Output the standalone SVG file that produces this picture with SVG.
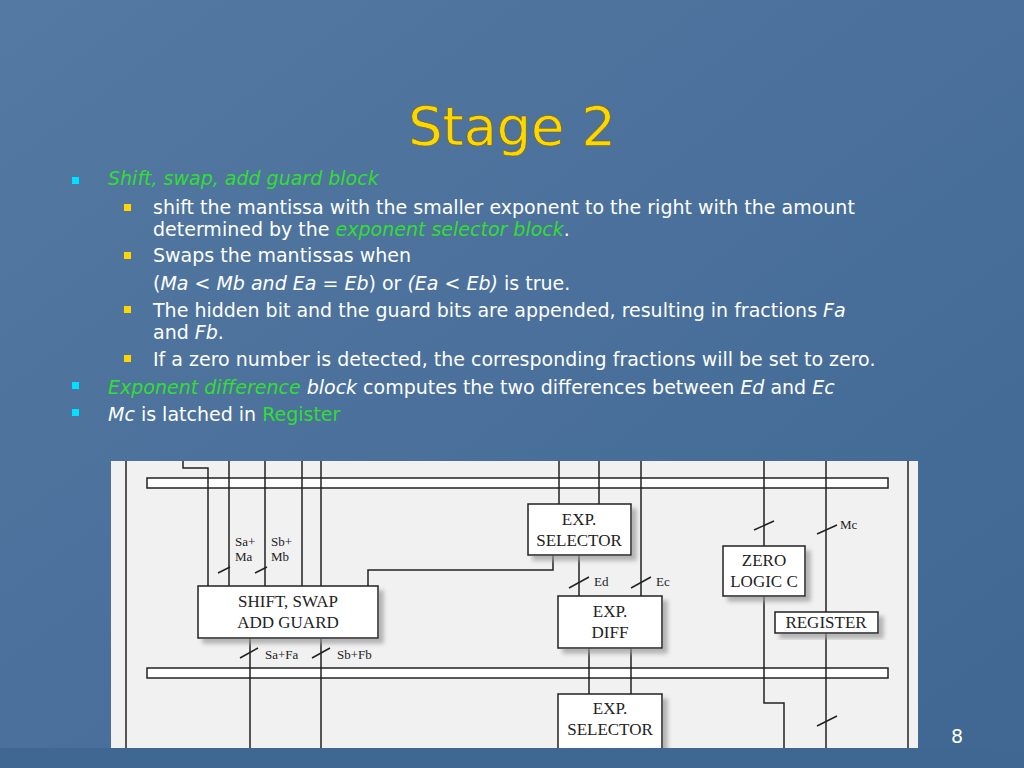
<svg xmlns="http://www.w3.org/2000/svg" width="1024" height="768" viewBox="0 0 1024 768">
<defs>
<linearGradient id="bg" x1="0" y1="0" x2="1" y2="1"><stop offset="0" stop-color="#5479a3"/><stop offset="1" stop-color="#3f6792"/></linearGradient>
<filter id="sh" x="-10%" y="-10%" width="130%" height="140%"><feDropShadow dx="5" dy="5" stdDeviation="2" flood-color="#999" flood-opacity="0.7"/></filter>
</defs>
<style>
.t{font-family:"DejaVu Sans","Liberation Sans",sans-serif;fill:#fff;font-size:19px}
.g{fill:#33dd33;font-style:italic}
.i{font-style:italic}
.b{fill:#fff;stroke:#222;stroke-width:1.5}
.l{stroke:#222;stroke-width:1.5;fill:none}
.d{font-family:"Liberation Serif",serif;fill:#222;text-anchor:middle;font-size:17px}
.s{font-family:"Liberation Serif",serif;fill:#222;font-size:13px}
</style>
<rect width="1024" height="768" fill="url(#bg)"/>
<text x="512" y="145" text-anchor="middle" font-family="DejaVu Sans,sans-serif" font-size="54" fill="#ffd700" stroke="#7a6000" stroke-width="0.5">Stage 2</text>
<rect x="72" y="177" width="7" height="7" fill="#00e0ff"/>
<rect x="72" y="382" width="7" height="7" fill="#00e0ff"/>
<rect x="72" y="409" width="7" height="7" fill="#00e0ff"/>
<rect x="124" y="204" width="7" height="7" fill="#ffd700"/>
<rect x="124" y="252" width="7" height="7" fill="#ffd700"/>
<rect x="124" y="306" width="7" height="7" fill="#ffd700"/>
<rect x="124" y="355" width="7" height="7" fill="#ffd700"/>
<text class="t g" x="108" y="185" font-size="20">Shift, swap, add guard block</text>
<text class="t" x="153" y="214">shift the mantissa with the smaller exponent to the right with the amount</text>
<text class="t" x="153" y="236">determined by the <tspan class="g">exponent selector block</tspan>.</text>
<text class="t" x="153" y="262">Swaps the mantissas when</text>
<text class="t" x="153" y="290">(<tspan class="i">Ma &lt; Mb and Ea</tspan> = <tspan class="i">Eb</tspan>) or <tspan class="i">(Ea &lt; Eb)</tspan> is true.</text>
<text class="t" x="153" y="317">The hidden bit and the guard bits are appended, resulting in fractions <tspan class="i">Fa</tspan></text>
<text class="t" x="153" y="339">and <tspan class="i">Fb</tspan>.</text>
<text class="t" x="153" y="366">If a zero number is detected, the corresponding fractions will be set to zero.</text>
<text class="t" x="108" y="394"><tspan class="g">Exponent difference</tspan><tspan class="i"> block</tspan> computes the two differences between <tspan class="i">Ed</tspan> and <tspan class="i">Ec</tspan></text>
<text class="t" x="108" y="421"><tspan class="i">Mc</tspan> is latched in <tspan fill="#33dd33">Register</tspan></text>
<text class="t" x="957" y="743" text-anchor="middle" font-size="16">8</text>

<rect x="111" y="461" width="807" height="287" fill="#f1f1f1"/>
<line x1="126" y1="461" x2="126" y2="748" class="l"/>
<line x1="908" y1="461" x2="908" y2="748" class="l"/>
<g id="connectors">
<rect x="147" y="478" width="741" height="10" class="b"/>
<rect x="147" y="668" width="741" height="10" class="b"/>
<path class="l" d="M183 461V468H208V586M229 461V586M265 461V586M302 461V586M321 461V586"/>
<path class="l" d="M368 586V570H553V555M559 461V504M599 461V504M641 461V596M579 555V596"/>
<path class="l" d="M250 638V748M321 638V748M589 648V694M631 648V694"/>
<path class="l" d="M579 740V748M611 740V748M641 740V748"/>
<path class="l" d="M764 461V546M764 596V703H784V748M826 461V748"/>
<path class="l" stroke-width="1" d="M218 573L230 567M255 573L267 567M240 658L258 648M312 658L330 648M569 588L589 577M631 588L651 577M754 530L774 521M817 534L837 525M817 726L837 716"/>
</g>
<g class="s">
<text x="235" y="546">Sa+</text><text x="235" y="561">Ma</text>
<text x="271" y="546">Sb+</text><text x="271" y="561">Mb</text>
<text x="265" y="659">Sa+Fa</text><text x="337" y="659">Sb+Fb</text>
<text x="594" y="586">Ed</text><text x="656" y="586">Ec</text>
<text x="840" y="529">Mc</text>
</g>
<g id="shift"><rect x="198" y="586" width="180" height="52" class="b" filter="url(#sh)"/><text class="d" x="288" y="607">SHIFT, SWAP</text><text class="d" x="288" y="628">ADD GUARD</text></g>
<g id="expsel1"><rect x="528" y="504" width="103" height="51" class="b" filter="url(#sh)"/><text class="d" x="579" y="525">EXP.</text><text class="d" x="579" y="546">SELECTOR</text></g>
<g id="expdiff"><rect x="558" y="596" width="104" height="52" class="b" filter="url(#sh)"/><text class="d" x="610" y="617">EXP.</text><text class="d" x="610" y="638">DIFF</text></g>
<g id="expsel2"><rect x="558" y="694" width="104" height="60" class="b" filter="url(#sh)"/><text class="d" x="610" y="714">EXP.</text><text class="d" x="610" y="735">SELECTOR</text></g>
<g id="zero"><rect x="723" y="546" width="82" height="50" class="b" filter="url(#sh)"/><text class="d" x="764" y="566">ZERO</text><text class="d" x="764" y="587">LOGIC C</text></g>
<g id="register"><rect x="775" y="612" width="103" height="21" class="b" filter="url(#sh)"/><text class="d" x="826" y="628">REGISTER</text></g>
<rect x="0" y="748" width="1024" height="20" fill="#3f6792"/>
</svg>
